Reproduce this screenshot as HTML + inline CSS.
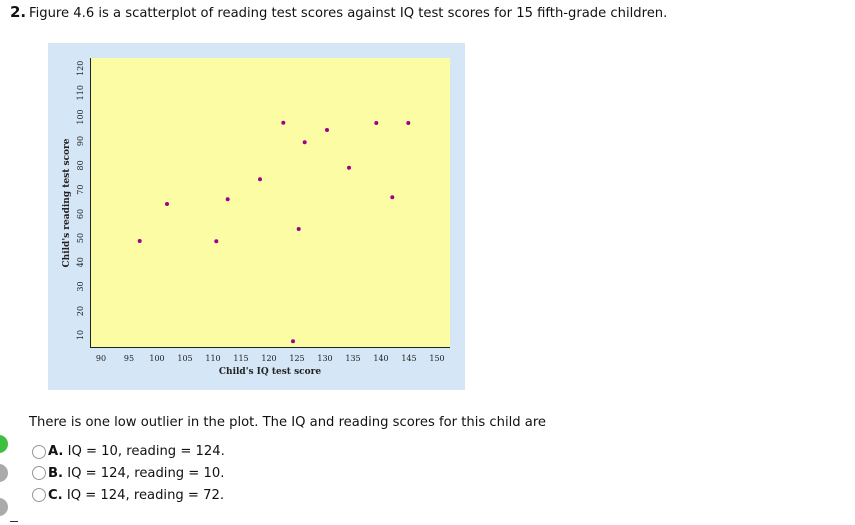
<!DOCTYPE html>
<html><head><meta charset="utf-8"><style>
body{margin:0;width:855px;height:525px;background:#fff;position:relative;overflow:hidden;font-family:"DejaVu Sans","Liberation Sans",sans-serif;color:#111}
.t{position:absolute;font-size:13.15px;white-space:nowrap}
</style></head><body>
<div class="t" style="left:10px;top:3px;font-size:15px;font-weight:bold">2.</div>
<div class="t" style="left:29px;top:6px">Figure 4.6 is a scatterplot of reading test scores against IQ test scores for 15 fifth-grade children.</div>
<svg style="position:absolute;left:0;top:0" width="855" height="525">
<rect x="48" y="43" width="417" height="347" fill="#d5e6f7"/>
<rect x="90" y="58" width="360" height="289" fill="#fcfca5"/>
<path d="M90.5 58V347.5H450" stroke="#222" fill="none"/>
<g font-family="DejaVu Serif,Liberation Serif,serif" font-size="8" fill="#222" text-anchor="middle">
<text x="101" y="361">90</text><text x="129" y="361">95</text><text x="157" y="361">100</text><text x="185" y="361">105</text><text x="213" y="361">110</text><text x="241" y="361">115</text><text x="269" y="361">120</text><text x="297" y="361">125</text><text x="325" y="361">130</text><text x="353" y="361">135</text><text x="381" y="361">140</text><text x="409" y="361">145</text><text x="437" y="361">150</text>
<text x="270" y="374" font-weight="bold" font-size="9">Child's IQ test score</text>
</g>
<g font-family="DejaVu Serif,Liberation Serif,serif" font-size="8" fill="#222" text-anchor="middle">
<text transform="translate(83,335) rotate(-90)">10</text>
<text transform="translate(83,311) rotate(-90)">20</text>
<text transform="translate(83,286.5) rotate(-90)">30</text>
<text transform="translate(83,262.3) rotate(-90)">40</text>
<text transform="translate(83,238) rotate(-90)">50</text>
<text transform="translate(83,214) rotate(-90)">60</text>
<text transform="translate(83,189.6) rotate(-90)">70</text>
<text transform="translate(83,165.4) rotate(-90)">80</text>
<text transform="translate(83,141) rotate(-90)">90</text>
<text transform="translate(83,117) rotate(-90)">100</text>
<text transform="translate(83,92.7) rotate(-90)">110</text>
<text transform="translate(83,68.3) rotate(-90)">120</text>
<text transform="translate(69,203) rotate(-90)" font-weight="bold" font-size="9">Child's reading test score</text>
</g>
<g fill="#a0008c">
<circle cx="139.7" cy="241" r="2"/><circle cx="167" cy="204" r="2"/><circle cx="216.3" cy="241.3" r="2"/><circle cx="227.7" cy="199.3" r="2"/><circle cx="260" cy="179.3" r="2"/><circle cx="283.3" cy="122.7" r="2"/><circle cx="293" cy="341.3" r="2"/><circle cx="298.7" cy="229" r="2"/><circle cx="304.7" cy="142.3" r="2"/><circle cx="327" cy="130" r="2"/><circle cx="349" cy="167.7" r="2"/><circle cx="376.3" cy="123" r="2"/><circle cx="392.3" cy="197.3" r="2"/><circle cx="408.3" cy="123" r="2"/>
</g>
<circle cx="-1" cy="444" r="9" fill="#3fbf3f"/>
<circle cx="-1" cy="473" r="9" fill="#aaa"/>
<circle cx="-1" cy="507" r="9" fill="#aaa"/>
<g fill="#fff" stroke="#999"><circle cx="39" cy="452" r="6.5"/><circle cx="39" cy="473" r="6.5"/><circle cx="39" cy="495" r="6.5"/></g>
<rect x="10" y="521" width="8" height="1" fill="#333"/>
</svg>
<div class="t" style="left:29px;top:415px">There is one low outlier in the plot. The IQ and reading scores for this child are</div>
<div class="t" style="left:48px;top:444px"><b>A.</b> IQ = 10, reading = 124.</div>
<div class="t" style="left:48px;top:466px"><b>B.</b> IQ = 124, reading = 10.</div>
<div class="t" style="left:48px;top:488px"><b>C.</b> IQ = 124, reading = 72.</div>
</body></html>
